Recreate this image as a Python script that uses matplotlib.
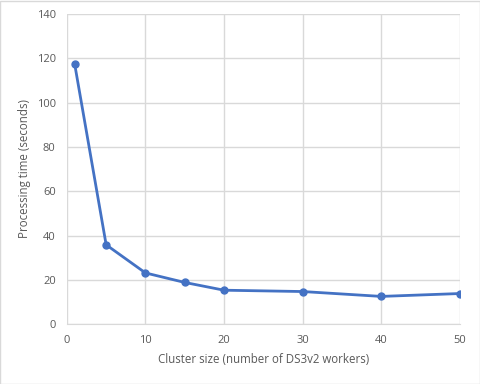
import matplotlib
matplotlib.use('Agg')
import matplotlib.pyplot as plt
from matplotlib.patches import Rectangle

# cluster size vs processing time
workers = [1, 5, 10, 15, 20, 30, 40, 50]
seconds = [117.3, 35.8, 23.1, 18.8, 15.3, 14.7, 12.5, 13.8]

plt.rcParams['font.family'] = ['Open Sans', 'DejaVu Sans']
txt = '#595959'
grid = '#d9d9d9'

fig = plt.figure(figsize=(4.81, 3.84), dpi=100)
ax = fig.add_axes([0.139, 0.156, 0.817, 0.8075])

ax.plot(workers, seconds, color='#4472c4', lw=2, marker='o', ms=5, zorder=3)

ax.set_xlim(0, 50)
ax.set_ylim(0, 140)
ax.set_xticks(range(0, 51, 10))
ax.set_yticks(range(0, 141, 20))
ax.grid(True, color=grid, lw=1)
for s in ['top', 'right', 'left']:
    ax.spines[s].set_visible(False)
ax.spines['bottom'].set_color(grid)
ax.tick_params(length=0, labelsize=8, colors=txt, pad=8)

ax.set_xlabel('Cluster size (number of DS3v2 workers)', fontsize=8.3, color=txt, labelpad=5)
ax.set_ylabel('Processing time (seconds)', fontsize=8.3, color=txt, labelpad=4)

# light frame around the chart
fig.patches.append(Rectangle((0.001, 0.001), 0.997, 0.996, transform=fig.transFigure,
                             fill=False, edgecolor=grid, lw=1))

fig.savefig('out.png', dpi=100)
